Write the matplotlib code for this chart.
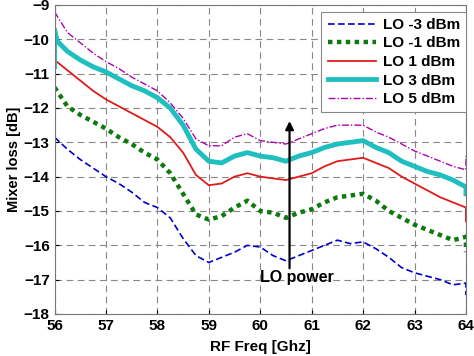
import matplotlib
matplotlib.use("Agg")
import matplotlib.pyplot as plt
import numpy as np

plt.rcParams['font.family'] = ['Liberation Sans', 'DejaVu Sans']
plt.rcParams['font.weight'] = 'bold'

freq = [56, 56.25, 56.5, 56.75, 57, 57.25, 57.5, 57.75, 58, 58.25, 58.5, 58.75,
        59, 59.25, 59.5, 59.75, 60, 60.25, 60.5, 60.75, 61, 61.25, 61.5, 61.75,
        62, 62.25, 62.5, 62.75, 63, 63.25, 63.5, 63.75, 64, 64]

lo_m3 = [-12.85, -13.2, -13.5, -13.75, -14.0, -14.2, -14.45, -14.75, -14.9, -15.2, -15.8, -16.3,
         -16.5, -16.35, -16.2, -16.0, -16.05, -16.3, -16.45, -16.3, -16.15, -16.0, -15.85, -15.95,
         -15.9, -16.1, -16.35, -16.65, -16.8, -16.9, -17.0, -17.15, -17.1, -17.45]
lo_m1 = [-11.4, -11.95, -12.2, -12.4, -12.6, -12.85, -13.05, -13.3, -13.5, -13.9, -14.5, -15.1,
         -15.25, -15.15, -14.9, -14.7, -15.0, -15.05, -15.2, -15.05, -14.95, -14.75, -14.6, -14.55,
         -14.5, -14.7, -15.0, -15.2, -15.4, -15.55, -15.7, -15.85, -15.75, -16.2]
lo_p1 = [-10.6, -10.9, -11.2, -11.5, -11.75, -11.95, -12.15, -12.35, -12.55, -12.85, -13.3, -13.95,
         -14.25, -14.2, -14.0, -13.9, -14.0, -14.05, -14.1, -14.0, -13.9, -13.7, -13.55, -13.5,
         -13.45, -13.6, -13.75, -14.0, -14.2, -14.4, -14.6, -14.75, -14.9, -15.3]
lo_p3 = [-10.0, -10.35, -10.6, -10.8, -10.95, -11.15, -11.35, -11.5, -11.7, -12.0, -12.5, -13.2,
         -13.55, -13.6, -13.4, -13.3, -13.4, -13.45, -13.55, -13.4, -13.3, -13.15, -13.05, -13.0,
         -12.95, -13.15, -13.3, -13.55, -13.7, -13.85, -13.95, -14.1, -14.3, -14.5]
lo_p3_start_x = [56, 56, 56.05]
lo_p3_start_y = [-10.8, -9.7, -10.05]
lo_p5 = [-9.2, -9.8, -10.1, -10.4, -10.65, -10.85, -11.1, -11.3, -11.5, -11.85, -12.3, -12.9,
         -13.1, -13.1, -12.85, -12.75, -12.95, -13.0, -13.05, -12.9, -12.75, -12.6, -12.5, -12.5,
         -12.5, -12.7, -12.85, -13.05, -13.25, -13.4, -13.55, -13.7, -13.8, -13.4]

labels = ['LO -3 dBm', 'LO -1 dBm', 'LO 1 dBm', 'LO 3 dBm', 'LO 5 dBm']

fig = plt.figure(figsize=(4.74, 3.56), dpi=100)
ax = fig.add_axes([0.115, 0.118, 0.868, 0.868])

ax.plot(freq, lo_m3, color='#0000cc', linestyle=(0, (4, 2)), linewidth=1.2, label=labels[0])
ax.plot(freq, lo_m1, color='#0e7a0e', linestyle=(0, (1, 1)), linewidth=3.2, label=labels[1])
ax.plot(freq, lo_p1, color='#e01a1a', linestyle='-', linewidth=1.3, label=labels[2])
ax.plot(lo_p3_start_x + freq[1:], lo_p3_start_y + lo_p3[1:], color='#1fbfbf',
        linestyle='-', linewidth=3.5, label=labels[3])
ax.plot(freq, lo_p5, color='#b000b0', linestyle=(0, (5, 1.5, 1, 1.5)), linewidth=1.0, label=labels[4])

ax.annotate('', xy=(60.57, -12.3), xytext=(60.57, -16.75),
            arrowprops=dict(arrowstyle='-|>', color='black', lw=1.6, mutation_scale=12))
ax.text(60.0, -16.95, 'LO power', fontsize=11.5, fontweight='bold', va='center', ha='left')

ax.set_xlim(56, 64)
ax.set_ylim(-18, -9)
ax.set_xticks(np.arange(56, 65, 1))
ax.set_yticks(np.arange(-18, -8, 1))
ax.grid(True, linestyle=(0, (6, 4)), color='#888888', linewidth=0.8)
ax.tick_params(labelsize=11, direction='in', length=3)
for lab in ax.get_xticklabels() + ax.get_yticklabels():
    lab.set_fontweight('bold')
for s in ax.spines.values():
    s.set_color('#777777')

ax.set_xlabel('RF Freq [Ghz]', fontsize=11, fontweight='bold', labelpad=5)
ax.set_ylabel('Mixer loss [dB]', fontsize=10.5, fontweight='bold', labelpad=2)

leg = ax.legend(loc='upper right', bbox_to_anchor=(1.0, 0.978), prop={'weight': 'bold', 'size': 11},
                fancybox=False, framealpha=1, edgecolor='#888888',
                handlelength=3.2, labelspacing=0.3, borderaxespad=0.0, handletextpad=0.4,
                borderpad=0.4)
leg.get_frame().set_linewidth(0.8)

fig.savefig('out.png', dpi=100)
